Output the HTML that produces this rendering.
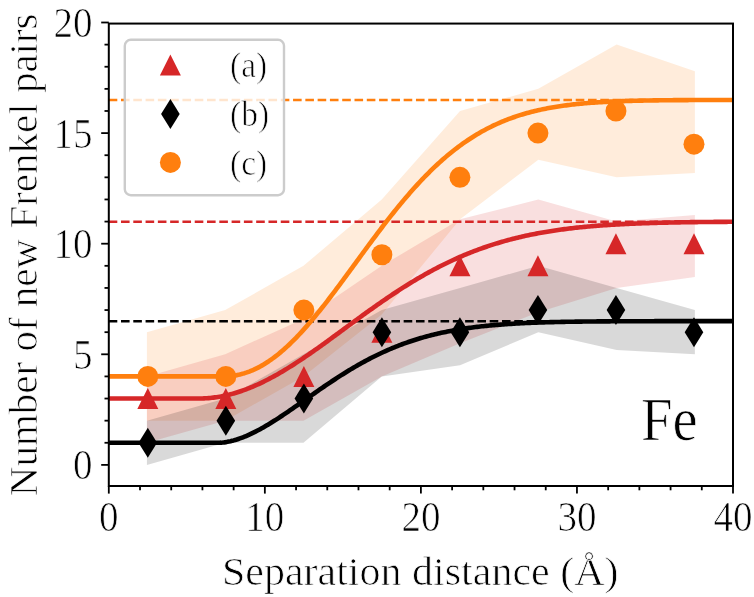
<!DOCTYPE html><html><head><meta charset="utf-8"><style>html,body{margin:0;padding:0;background:#fff;overflow:hidden}svg{display:block;will-change:transform}text{font-family:"Liberation Serif",serif;fill:#000;stroke:#fff;stroke-width:0.75px}</style></head><body>
<svg width="754" height="597" viewBox="0 0 754 597">
<rect width="754" height="597" fill="#fff"/>
<defs><clipPath id="ax"><rect x="108.8" y="23.57" width="624.2" height="462.43"/></clipPath></defs>
<g clip-path="url(#ax)">
<polygon points="146.91,332.18 225.19,310.06 303.48,265.82 381.76,199.46 460.04,110.98 538.32,88.86 616.61,44.62 694.89,71.16 694.89,172.92 616.61,177.34 538.32,159.64 460.04,219.37 381.76,314.48 303.48,376.42 225.19,420.66 146.91,420.66" fill="#ff7f0e" fill-opacity="0.15"/>
<polygon points="146.91,376.42 225.19,354.30 303.48,318.91 381.76,265.82 460.04,219.37 538.32,199.46 616.61,221.58 694.89,214.94 694.89,276.88 616.61,287.94 538.32,312.27 460.04,343.24 381.76,376.42 303.48,420.66 225.19,420.66 146.91,442.78" fill="#d62728" fill-opacity="0.15"/>
<polygon points="146.91,420.66 225.19,398.54 303.48,354.30 381.76,310.06 460.04,287.94 538.32,265.82 616.61,287.94 694.89,310.06 694.89,354.30 616.61,349.88 538.32,332.18 460.04,365.36 381.76,376.42 303.48,442.78 225.19,442.78 146.91,464.90" fill="#000000" fill-opacity="0.15"/>
<line x1="108.7" y1="100.12" x2="733" y2="100.12" stroke="#ff7f0e" stroke-width="2.5" stroke-dasharray="8.6 3.69"/>
<line x1="108.7" y1="221.78" x2="733" y2="221.78" stroke="#d62728" stroke-width="2.5" stroke-dasharray="8.6 3.69"/>
<line x1="108.7" y1="321.32" x2="733" y2="321.32" stroke="#000" stroke-width="2.5" stroke-dasharray="8.6 3.69"/>
<path d="M108.80,376.42 L110.36,376.42 L111.92,376.42 L113.48,376.42 L115.04,376.42 L116.60,376.42 L118.16,376.42 L119.72,376.42 L121.28,376.42 L122.84,376.42 L124.41,376.42 L125.97,376.42 L127.53,376.42 L129.09,376.42 L130.65,376.42 L132.21,376.42 L133.77,376.42 L135.33,376.42 L136.89,376.42 L138.45,376.42 L140.01,376.42 L141.57,376.42 L143.13,376.42 L144.69,376.42 L146.25,376.42 L147.81,376.42 L149.37,376.42 L150.93,376.42 L152.49,376.42 L154.05,376.42 L155.62,376.42 L157.18,376.42 L158.74,376.42 L160.30,376.42 L161.86,376.42 L163.42,376.42 L164.98,376.42 L166.54,376.42 L168.10,376.42 L169.66,376.42 L171.22,376.42 L172.78,376.42 L174.34,376.42 L175.90,376.42 L177.46,376.42 L179.02,376.42 L180.58,376.42 L182.14,376.42 L183.70,376.42 L185.26,376.42 L186.82,376.42 L188.39,376.42 L189.95,376.42 L191.51,376.42 L193.07,376.42 L194.63,376.42 L196.19,376.42 L197.75,376.42 L199.31,376.42 L200.87,376.42 L202.43,376.42 L203.99,376.42 L205.55,376.42 L207.11,376.42 L208.67,376.42 L210.23,376.42 L211.79,376.42 L213.35,376.42 L214.91,376.42 L216.47,376.42 L218.03,376.42 L219.60,376.42 L221.16,376.42 L222.72,376.42 L224.28,376.40 L225.84,376.36 L227.40,376.28 L228.96,376.18 L230.52,376.04 L232.08,375.86 L233.64,375.65 L235.20,375.41 L236.76,375.13 L238.32,374.81 L239.88,374.46 L241.44,374.07 L243.00,373.64 L244.56,373.18 L246.12,372.68 L247.68,372.14 L249.25,371.57 L250.81,370.95 L252.37,370.30 L253.93,369.62 L255.49,368.89 L257.05,368.13 L258.61,367.33 L260.17,366.50 L261.73,365.63 L263.29,364.72 L264.85,363.77 L266.41,362.79 L267.97,361.78 L269.53,360.72 L271.09,359.64 L272.65,358.51 L274.21,357.36 L275.77,356.17 L277.33,354.94 L278.89,353.68 L280.45,352.39 L282.02,351.07 L283.58,349.71 L285.14,348.32 L286.70,346.90 L288.26,345.46 L289.82,343.98 L291.38,342.47 L292.94,340.93 L294.50,339.36 L296.06,337.77 L297.62,336.15 L299.18,334.50 L300.74,332.83 L302.30,331.13 L303.86,329.40 L305.42,327.66 L306.98,325.89 L308.54,324.09 L310.10,322.28 L311.67,320.44 L313.23,318.58 L314.79,316.70 L316.35,314.81 L317.91,312.89 L319.47,310.96 L321.03,309.01 L322.59,307.04 L324.15,305.06 L325.71,303.06 L327.27,301.05 L328.83,299.03 L330.39,296.99 L331.95,294.94 L333.51,292.88 L335.07,290.81 L336.63,288.73 L338.19,286.64 L339.75,284.55 L341.31,282.44 L342.88,280.33 L344.44,278.22 L346.00,276.09 L347.56,273.97 L349.12,271.84 L350.68,269.71 L352.24,267.57 L353.80,265.44 L355.36,263.30 L356.92,261.16 L358.48,259.03 L360.04,256.89 L361.60,254.76 L363.16,252.63 L364.72,250.50 L366.28,248.38 L367.84,246.26 L369.40,244.15 L370.96,242.04 L372.52,239.94 L374.09,237.84 L375.65,235.76 L377.21,233.68 L378.77,231.61 L380.33,229.55 L381.89,227.50 L383.45,225.46 L385.01,223.43 L386.57,221.42 L388.13,219.41 L389.69,217.42 L391.25,215.44 L392.81,213.47 L394.37,211.52 L395.93,209.58 L397.49,207.66 L399.05,205.75 L400.61,203.85 L402.17,201.97 L403.73,200.11 L405.30,198.27 L406.86,196.44 L408.42,194.63 L409.98,192.83 L411.54,191.06 L413.10,189.30 L414.66,187.56 L416.22,185.84 L417.78,184.13 L419.34,182.45 L420.90,180.79 L422.46,179.14 L424.02,177.51 L425.58,175.91 L427.14,174.32 L428.70,172.76 L430.26,171.21 L431.82,169.68 L433.38,168.18 L434.94,166.69 L436.50,165.23 L438.07,163.78 L439.63,162.36 L441.19,160.96 L442.75,159.57 L444.31,158.21 L445.87,156.87 L447.43,155.55 L448.99,154.25 L450.55,152.97 L452.11,151.71 L453.67,150.48 L455.23,149.26 L456.79,148.06 L458.35,146.89 L459.91,145.73 L461.47,144.59 L463.03,143.48 L464.59,142.38 L466.15,141.31 L467.72,140.25 L469.28,139.22 L470.84,138.20 L472.40,137.20 L473.96,136.22 L475.52,135.27 L477.08,134.33 L478.64,133.41 L480.20,132.50 L481.76,131.62 L483.32,130.75 L484.88,129.91 L486.44,129.08 L488.00,128.26 L489.56,127.47 L491.12,126.69 L492.68,125.93 L494.24,125.19 L495.80,124.46 L497.36,123.75 L498.93,123.06 L500.49,122.38 L502.05,121.72 L503.61,121.07 L505.17,120.44 L506.73,119.82 L508.29,119.22 L509.85,118.64 L511.41,118.06 L512.97,117.51 L514.53,116.96 L516.09,116.43 L517.65,115.91 L519.21,115.41 L520.77,114.92 L522.33,114.44 L523.89,113.98 L525.45,113.52 L527.01,113.08 L528.57,112.66 L530.13,112.24 L531.70,111.83 L533.26,111.44 L534.82,111.05 L536.38,110.68 L537.94,110.32 L539.50,109.97 L541.06,109.62 L542.62,109.29 L544.18,108.97 L545.74,108.66 L547.30,108.35 L548.86,108.06 L550.42,107.77 L551.98,107.49 L553.54,107.23 L555.10,106.96 L556.66,106.71 L558.22,106.47 L559.78,106.23 L561.35,106.00 L562.91,105.78 L564.47,105.56 L566.03,105.35 L567.59,105.15 L569.15,104.96 L570.71,104.77 L572.27,104.58 L573.83,104.41 L575.39,104.24 L576.95,104.07 L578.51,103.91 L580.07,103.76 L581.63,103.61 L583.19,103.46 L584.75,103.32 L586.31,103.19 L587.87,103.06 L589.43,102.94 L590.99,102.82 L592.55,102.70 L594.12,102.59 L595.68,102.48 L597.24,102.38 L598.80,102.27 L600.36,102.18 L601.92,102.09 L603.48,102.00 L605.04,101.91 L606.60,101.83 L608.16,101.75 L609.72,101.67 L611.28,101.59 L612.84,101.52 L614.40,101.45 L615.96,101.39 L617.52,101.33 L619.08,101.26 L620.64,101.21 L622.20,101.15 L623.76,101.10 L625.33,101.04 L626.89,100.99 L628.45,100.95 L630.01,100.90 L631.57,100.86 L633.13,100.81 L634.69,100.77 L636.25,100.74 L637.81,100.70 L639.37,100.66 L640.93,100.63 L642.49,100.60 L644.05,100.56 L645.61,100.53 L647.17,100.51 L648.73,100.48 L650.29,100.45 L651.85,100.43 L653.41,100.40 L654.98,100.38 L656.54,100.36 L658.10,100.34 L659.66,100.32 L661.22,100.30 L662.78,100.28 L664.34,100.26 L665.90,100.25 L667.46,100.23 L669.02,100.21 L670.58,100.20 L672.14,100.19 L673.70,100.17 L675.26,100.16 L676.82,100.15 L678.38,100.14 L679.94,100.13 L681.50,100.11 L683.06,100.10 L684.62,100.10 L686.18,100.09 L687.75,100.08 L689.31,100.07 L690.87,100.06 L692.43,100.05 L693.99,100.05 L695.55,100.04 L697.11,100.03 L698.67,100.03 L700.23,100.02 L701.79,100.02 L703.35,100.01 L704.91,100.01 L706.47,100.00 L708.03,100.00 L709.59,99.99 L711.15,99.99 L712.71,99.99 L714.27,99.98 L715.83,99.98 L717.39,99.98 L718.96,99.97 L720.52,99.97 L722.08,99.97 L723.64,99.96 L725.20,99.96 L726.76,99.96 L728.32,99.96 L729.88,99.96 L731.44,99.95 L733.00,99.95" fill="none" stroke="#ff7f0e" stroke-width="4.6" stroke-linejoin="round" stroke-linecap="square"/>
<path d="M108.80,398.54 L110.36,398.54 L111.92,398.54 L113.48,398.54 L115.04,398.54 L116.60,398.54 L118.16,398.54 L119.72,398.54 L121.28,398.54 L122.84,398.54 L124.41,398.54 L125.97,398.54 L127.53,398.54 L129.09,398.54 L130.65,398.54 L132.21,398.54 L133.77,398.54 L135.33,398.54 L136.89,398.54 L138.45,398.54 L140.01,398.54 L141.57,398.54 L143.13,398.54 L144.69,398.54 L146.25,398.54 L147.81,398.54 L149.37,398.54 L150.93,398.54 L152.49,398.54 L154.05,398.54 L155.62,398.54 L157.18,398.54 L158.74,398.54 L160.30,398.54 L161.86,398.54 L163.42,398.54 L164.98,398.54 L166.54,398.54 L168.10,398.54 L169.66,398.54 L171.22,398.54 L172.78,398.54 L174.34,398.54 L175.90,398.54 L177.46,398.54 L179.02,398.54 L180.58,398.54 L182.14,398.54 L183.70,398.54 L185.26,398.54 L186.82,398.54 L188.39,398.54 L189.95,398.54 L191.51,398.54 L193.07,398.54 L194.63,398.54 L196.19,398.54 L197.75,398.54 L199.31,398.54 L200.87,398.51 L202.43,398.47 L203.99,398.41 L205.55,398.32 L207.11,398.22 L208.67,398.10 L210.23,397.95 L211.79,397.79 L213.35,397.60 L214.91,397.40 L216.47,397.18 L218.03,396.93 L219.60,396.67 L221.16,396.39 L222.72,396.08 L224.28,395.76 L225.84,395.42 L227.40,395.06 L228.96,394.68 L230.52,394.28 L232.08,393.86 L233.64,393.43 L235.20,392.97 L236.76,392.50 L238.32,392.01 L239.88,391.50 L241.44,390.97 L243.00,390.43 L244.56,389.87 L246.12,389.29 L247.68,388.69 L249.25,388.08 L250.81,387.45 L252.37,386.80 L253.93,386.14 L255.49,385.46 L257.05,384.76 L258.61,384.05 L260.17,383.32 L261.73,382.58 L263.29,381.82 L264.85,381.05 L266.41,380.27 L267.97,379.47 L269.53,378.65 L271.09,377.83 L272.65,376.98 L274.21,376.13 L275.77,375.26 L277.33,374.38 L278.89,373.49 L280.45,372.59 L282.02,371.67 L283.58,370.74 L285.14,369.80 L286.70,368.85 L288.26,367.89 L289.82,366.92 L291.38,365.94 L292.94,364.95 L294.50,363.95 L296.06,362.94 L297.62,361.92 L299.18,360.90 L300.74,359.86 L302.30,358.82 L303.86,357.77 L305.42,356.71 L306.98,355.64 L308.54,354.57 L310.10,353.49 L311.67,352.40 L313.23,351.31 L314.79,350.22 L316.35,349.11 L317.91,348.01 L319.47,346.89 L321.03,345.78 L322.59,344.66 L324.15,343.53 L325.71,342.40 L327.27,341.27 L328.83,340.14 L330.39,339.00 L331.95,337.86 L333.51,336.72 L335.07,335.58 L336.63,334.43 L338.19,333.29 L339.75,332.14 L341.31,330.99 L342.88,329.84 L344.44,328.69 L346.00,327.54 L347.56,326.40 L349.12,325.25 L350.68,324.10 L352.24,322.96 L353.80,321.81 L355.36,320.67 L356.92,319.53 L358.48,318.39 L360.04,317.25 L361.60,316.12 L363.16,314.98 L364.72,313.86 L366.28,312.73 L367.84,311.61 L369.40,310.49 L370.96,309.38 L372.52,308.26 L374.09,307.16 L375.65,306.06 L377.21,304.96 L378.77,303.87 L380.33,302.78 L381.89,301.70 L383.45,300.62 L385.01,299.55 L386.57,298.48 L388.13,297.42 L389.69,296.37 L391.25,295.32 L392.81,294.28 L394.37,293.25 L395.93,292.22 L397.49,291.20 L399.05,290.18 L400.61,289.18 L402.17,288.18 L403.73,287.18 L405.30,286.20 L406.86,285.22 L408.42,284.25 L409.98,283.29 L411.54,282.33 L413.10,281.39 L414.66,280.45 L416.22,279.52 L417.78,278.59 L419.34,277.68 L420.90,276.77 L422.46,275.88 L424.02,274.99 L425.58,274.11 L427.14,273.23 L428.70,272.37 L430.26,271.52 L431.82,270.67 L433.38,269.83 L434.94,269.01 L436.50,268.19 L438.07,267.38 L439.63,266.57 L441.19,265.78 L442.75,265.00 L444.31,264.22 L445.87,263.46 L447.43,262.70 L448.99,261.95 L450.55,261.22 L452.11,260.49 L453.67,259.77 L455.23,259.05 L456.79,258.35 L458.35,257.66 L459.91,256.98 L461.47,256.30 L463.03,255.63 L464.59,254.98 L466.15,254.33 L467.72,253.69 L469.28,253.06 L470.84,252.44 L472.40,251.82 L473.96,251.22 L475.52,250.62 L477.08,250.04 L478.64,249.46 L480.20,248.89 L481.76,248.33 L483.32,247.78 L484.88,247.23 L486.44,246.70 L488.00,246.17 L489.56,245.65 L491.12,245.14 L492.68,244.64 L494.24,244.15 L495.80,243.66 L497.36,243.18 L498.93,242.71 L500.49,242.25 L502.05,241.79 L503.61,241.35 L505.17,240.91 L506.73,240.48 L508.29,240.05 L509.85,239.64 L511.41,239.23 L512.97,238.82 L514.53,238.43 L516.09,238.04 L517.65,237.66 L519.21,237.29 L520.77,236.92 L522.33,236.56 L523.89,236.21 L525.45,235.86 L527.01,235.52 L528.57,235.19 L530.13,234.86 L531.70,234.54 L533.26,234.23 L534.82,233.92 L536.38,233.62 L537.94,233.32 L539.50,233.03 L541.06,232.75 L542.62,232.47 L544.18,232.20 L545.74,231.93 L547.30,231.67 L548.86,231.42 L550.42,231.16 L551.98,230.92 L553.54,230.68 L555.10,230.44 L556.66,230.22 L558.22,229.99 L559.78,229.77 L561.35,229.56 L562.91,229.35 L564.47,229.14 L566.03,228.94 L567.59,228.74 L569.15,228.55 L570.71,228.36 L572.27,228.18 L573.83,228.00 L575.39,227.83 L576.95,227.66 L578.51,227.49 L580.07,227.33 L581.63,227.17 L583.19,227.01 L584.75,226.86 L586.31,226.71 L587.87,226.57 L589.43,226.43 L590.99,226.29 L592.55,226.15 L594.12,226.02 L595.68,225.90 L597.24,225.77 L598.80,225.65 L600.36,225.53 L601.92,225.42 L603.48,225.31 L605.04,225.20 L606.60,225.09 L608.16,224.99 L609.72,224.88 L611.28,224.79 L612.84,224.69 L614.40,224.60 L615.96,224.51 L617.52,224.42 L619.08,224.33 L620.64,224.25 L622.20,224.17 L623.76,224.09 L625.33,224.01 L626.89,223.93 L628.45,223.86 L630.01,223.79 L631.57,223.72 L633.13,223.65 L634.69,223.59 L636.25,223.53 L637.81,223.46 L639.37,223.40 L640.93,223.35 L642.49,223.29 L644.05,223.23 L645.61,223.18 L647.17,223.13 L648.73,223.08 L650.29,223.03 L651.85,222.98 L653.41,222.94 L654.98,222.89 L656.54,222.85 L658.10,222.81 L659.66,222.77 L661.22,222.73 L662.78,222.69 L664.34,222.65 L665.90,222.61 L667.46,222.58 L669.02,222.55 L670.58,222.51 L672.14,222.48 L673.70,222.45 L675.26,222.42 L676.82,222.39 L678.38,222.36 L679.94,222.34 L681.50,222.31 L683.06,222.28 L684.62,222.26 L686.18,222.24 L687.75,222.21 L689.31,222.19 L690.87,222.17 L692.43,222.15 L693.99,222.13 L695.55,222.11 L697.11,222.09 L698.67,222.07 L700.23,222.05 L701.79,222.04 L703.35,222.02 L704.91,222.00 L706.47,221.99 L708.03,221.97 L709.59,221.96 L711.15,221.94 L712.71,221.93 L714.27,221.92 L715.83,221.91 L717.39,221.89 L718.96,221.88 L720.52,221.87 L722.08,221.86 L723.64,221.85 L725.20,221.84 L726.76,221.83 L728.32,221.82 L729.88,221.81 L731.44,221.80 L733.00,221.79" fill="none" stroke="#d62728" stroke-width="4.6" stroke-linejoin="round" stroke-linecap="square"/>
<path d="M108.80,442.78 L110.36,442.78 L111.92,442.78 L113.48,442.78 L115.04,442.78 L116.60,442.78 L118.16,442.78 L119.72,442.78 L121.28,442.78 L122.84,442.78 L124.41,442.78 L125.97,442.78 L127.53,442.78 L129.09,442.78 L130.65,442.78 L132.21,442.78 L133.77,442.78 L135.33,442.78 L136.89,442.78 L138.45,442.78 L140.01,442.78 L141.57,442.78 L143.13,442.78 L144.69,442.78 L146.25,442.78 L147.81,442.78 L149.37,442.78 L150.93,442.78 L152.49,442.78 L154.05,442.78 L155.62,442.78 L157.18,442.78 L158.74,442.78 L160.30,442.78 L161.86,442.78 L163.42,442.78 L164.98,442.78 L166.54,442.78 L168.10,442.78 L169.66,442.78 L171.22,442.78 L172.78,442.78 L174.34,442.78 L175.90,442.78 L177.46,442.78 L179.02,442.78 L180.58,442.78 L182.14,442.78 L183.70,442.78 L185.26,442.78 L186.82,442.78 L188.39,442.78 L189.95,442.78 L191.51,442.78 L193.07,442.78 L194.63,442.78 L196.19,442.78 L197.75,442.78 L199.31,442.78 L200.87,442.78 L202.43,442.78 L203.99,442.78 L205.55,442.78 L207.11,442.78 L208.67,442.78 L210.23,442.78 L211.79,442.78 L213.35,442.78 L214.91,442.78 L216.47,442.78 L218.03,442.78 L219.60,442.76 L221.16,442.67 L222.72,442.53 L224.28,442.35 L225.84,442.12 L227.40,441.85 L228.96,441.54 L230.52,441.20 L232.08,440.82 L233.64,440.41 L235.20,439.96 L236.76,439.49 L238.32,438.98 L239.88,438.44 L241.44,437.87 L243.00,437.28 L244.56,436.66 L246.12,436.01 L247.68,435.34 L249.25,434.64 L250.81,433.92 L252.37,433.18 L253.93,432.42 L255.49,431.63 L257.05,430.82 L258.61,430.00 L260.17,429.15 L261.73,428.29 L263.29,427.41 L264.85,426.51 L266.41,425.60 L267.97,424.67 L269.53,423.73 L271.09,422.77 L272.65,421.80 L274.21,420.82 L275.77,419.83 L277.33,418.82 L278.89,417.81 L280.45,416.78 L282.02,415.75 L283.58,414.71 L285.14,413.66 L286.70,412.60 L288.26,411.54 L289.82,410.47 L291.38,409.39 L292.94,408.31 L294.50,407.23 L296.06,406.14 L297.62,405.05 L299.18,403.95 L300.74,402.86 L302.30,401.76 L303.86,400.66 L305.42,399.56 L306.98,398.46 L308.54,397.37 L310.10,396.27 L311.67,395.17 L313.23,394.08 L314.79,392.99 L316.35,391.90 L317.91,390.81 L319.47,389.73 L321.03,388.66 L322.59,387.58 L324.15,386.51 L325.71,385.45 L327.27,384.39 L328.83,383.34 L330.39,382.29 L331.95,381.25 L333.51,380.22 L335.07,379.20 L336.63,378.18 L338.19,377.17 L339.75,376.16 L341.31,375.17 L342.88,374.18 L344.44,373.20 L346.00,372.24 L347.56,371.28 L349.12,370.32 L350.68,369.38 L352.24,368.45 L353.80,367.53 L355.36,366.62 L356.92,365.71 L358.48,364.82 L360.04,363.94 L361.60,363.07 L363.16,362.21 L364.72,361.36 L366.28,360.52 L367.84,359.69 L369.40,358.87 L370.96,358.07 L372.52,357.27 L374.09,356.49 L375.65,355.71 L377.21,354.95 L378.77,354.20 L380.33,353.46 L381.89,352.73 L383.45,352.01 L385.01,351.30 L386.57,350.61 L388.13,349.92 L389.69,349.25 L391.25,348.59 L392.81,347.94 L394.37,347.30 L395.93,346.67 L397.49,346.05 L399.05,345.44 L400.61,344.85 L402.17,344.26 L403.73,343.69 L405.30,343.12 L406.86,342.57 L408.42,342.03 L409.98,341.49 L411.54,340.97 L413.10,340.46 L414.66,339.96 L416.22,339.46 L417.78,338.98 L419.34,338.51 L420.90,338.05 L422.46,337.59 L424.02,337.15 L425.58,336.72 L427.14,336.29 L428.70,335.88 L430.26,335.47 L431.82,335.07 L433.38,334.68 L434.94,334.30 L436.50,333.93 L438.07,333.57 L439.63,333.21 L441.19,332.87 L442.75,332.53 L444.31,332.20 L445.87,331.88 L447.43,331.56 L448.99,331.26 L450.55,330.96 L452.11,330.66 L453.67,330.38 L455.23,330.10 L456.79,329.83 L458.35,329.57 L459.91,329.31 L461.47,329.06 L463.03,328.81 L464.59,328.58 L466.15,328.34 L467.72,328.12 L469.28,327.90 L470.84,327.69 L472.40,327.48 L473.96,327.28 L475.52,327.08 L477.08,326.89 L478.64,326.70 L480.20,326.52 L481.76,326.34 L483.32,326.17 L484.88,326.01 L486.44,325.85 L488.00,325.69 L489.56,325.54 L491.12,325.39 L492.68,325.25 L494.24,325.11 L495.80,324.97 L497.36,324.84 L498.93,324.71 L500.49,324.59 L502.05,324.47 L503.61,324.35 L505.17,324.24 L506.73,324.13 L508.29,324.03 L509.85,323.93 L511.41,323.83 L512.97,323.73 L514.53,323.64 L516.09,323.55 L517.65,323.46 L519.21,323.38 L520.77,323.29 L522.33,323.21 L523.89,323.14 L525.45,323.06 L527.01,322.99 L528.57,322.92 L530.13,322.86 L531.70,322.79 L533.26,322.73 L534.82,322.67 L536.38,322.61 L537.94,322.55 L539.50,322.50 L541.06,322.45 L542.62,322.40 L544.18,322.35 L545.74,322.30 L547.30,322.26 L548.86,322.21 L550.42,322.17 L551.98,322.13 L553.54,322.09 L555.10,322.05 L556.66,322.01 L558.22,321.98 L559.78,321.94 L561.35,321.91 L562.91,321.88 L564.47,321.85 L566.03,321.82 L567.59,321.79 L569.15,321.76 L570.71,321.74 L572.27,321.71 L573.83,321.69 L575.39,321.67 L576.95,321.64 L578.51,321.62 L580.07,321.60 L581.63,321.58 L583.19,321.56 L584.75,321.54 L586.31,321.52 L587.87,321.51 L589.43,321.49 L590.99,321.48 L592.55,321.46 L594.12,321.45 L595.68,321.43 L597.24,321.42 L598.80,321.41 L600.36,321.39 L601.92,321.38 L603.48,321.37 L605.04,321.36 L606.60,321.35 L608.16,321.34 L609.72,321.33 L611.28,321.32 L612.84,321.31 L614.40,321.30 L615.96,321.29 L617.52,321.29 L619.08,321.28 L620.64,321.27 L622.20,321.26 L623.76,321.26 L625.33,321.25 L626.89,321.25 L628.45,321.24 L630.01,321.23 L631.57,321.23 L633.13,321.22 L634.69,321.22 L636.25,321.21 L637.81,321.21 L639.37,321.21 L640.93,321.20 L642.49,321.20 L644.05,321.19 L645.61,321.19 L647.17,321.19 L648.73,321.18 L650.29,321.18 L651.85,321.18 L653.41,321.18 L654.98,321.17 L656.54,321.17 L658.10,321.17 L659.66,321.17 L661.22,321.16 L662.78,321.16 L664.34,321.16 L665.90,321.16 L667.46,321.16 L669.02,321.15 L670.58,321.15 L672.14,321.15 L673.70,321.15 L675.26,321.15 L676.82,321.15 L678.38,321.15 L679.94,321.14 L681.50,321.14 L683.06,321.14 L684.62,321.14 L686.18,321.14 L687.75,321.14 L689.31,321.14 L690.87,321.14 L692.43,321.14 L693.99,321.13 L695.55,321.13 L697.11,321.13 L698.67,321.13 L700.23,321.13 L701.79,321.13 L703.35,321.13 L704.91,321.13 L706.47,321.13 L708.03,321.13 L709.59,321.13 L711.15,321.13 L712.71,321.13 L714.27,321.13 L715.83,321.13 L717.39,321.13 L718.96,321.13 L720.52,321.13 L722.08,321.13 L723.64,321.13 L725.20,321.13 L726.76,321.12 L728.32,321.12 L729.88,321.12 L731.44,321.12 L733.00,321.12" fill="none" stroke="#000" stroke-width="4.6" stroke-linejoin="round" stroke-linecap="square"/>
<polygon points="147.81,388.04 137.31,409.04 158.31,409.04" fill="#d62728"/>
<polygon points="225.84,388.04 215.34,409.04 236.34,409.04" fill="#d62728"/>
<polygon points="303.86,365.92 293.36,386.92 314.36,386.92" fill="#d62728"/>
<polygon points="381.89,321.68 371.39,342.68 392.39,342.68" fill="#d62728"/>
<polygon points="459.91,255.32 449.41,276.32 470.41,276.32" fill="#d62728"/>
<polygon points="537.94,255.32 527.44,276.32 548.44,276.32" fill="#d62728"/>
<polygon points="615.96,233.20 605.46,254.20 626.46,254.20" fill="#d62728"/>
<polygon points="693.99,233.20 683.49,254.20 704.49,254.20" fill="#d62728"/>
<polygon points="147.81,427.78 157.11,442.78 147.81,457.78 138.51,442.78" fill="#000"/>
<polygon points="225.84,405.66 235.14,420.66 225.84,435.66 216.54,420.66" fill="#000"/>
<polygon points="303.86,383.54 313.16,398.54 303.86,413.54 294.56,398.54" fill="#000"/>
<polygon points="381.89,317.18 391.19,332.18 381.89,347.18 372.59,332.18" fill="#000"/>
<polygon points="459.91,317.18 469.21,332.18 459.91,347.18 450.61,332.18" fill="#000"/>
<polygon points="537.94,295.06 547.24,310.06 537.94,325.06 528.64,310.06" fill="#000"/>
<polygon points="615.96,295.06 625.26,310.06 615.96,325.06 606.66,310.06" fill="#000"/>
<polygon points="693.99,317.18 703.29,332.18 693.99,347.18 684.69,332.18" fill="#000"/>
<circle cx="147.81" cy="376.42" r="10.50" fill="#ff7f0e"/>
<circle cx="225.84" cy="376.42" r="10.50" fill="#ff7f0e"/>
<circle cx="303.86" cy="310.06" r="10.50" fill="#ff7f0e"/>
<circle cx="381.89" cy="254.76" r="10.50" fill="#ff7f0e"/>
<circle cx="459.91" cy="177.34" r="10.50" fill="#ff7f0e"/>
<circle cx="537.94" cy="133.10" r="10.50" fill="#ff7f0e"/>
<circle cx="615.96" cy="110.98" r="10.50" fill="#ff7f0e"/>
<circle cx="693.99" cy="144.16" r="10.50" fill="#ff7f0e"/>
</g>
<rect x="108.8" y="23.57" width="624.2" height="462.43" fill="none" stroke="#000" stroke-width="2.0"/>
<line x1="101.20" y1="464.90" x2="108.8" y2="464.90" stroke="#000" stroke-width="1.8"/>
<line x1="101.20" y1="354.30" x2="108.8" y2="354.30" stroke="#000" stroke-width="1.8"/>
<line x1="101.20" y1="243.70" x2="108.8" y2="243.70" stroke="#000" stroke-width="1.8"/>
<line x1="101.20" y1="133.10" x2="108.8" y2="133.10" stroke="#000" stroke-width="1.8"/>
<line x1="101.20" y1="22.50" x2="108.8" y2="22.50" stroke="#000" stroke-width="1.8"/>
<line x1="104.50" y1="442.78" x2="108.8" y2="442.78" stroke="#000" stroke-width="1.8"/>
<line x1="104.50" y1="420.66" x2="108.8" y2="420.66" stroke="#000" stroke-width="1.8"/>
<line x1="104.50" y1="398.54" x2="108.8" y2="398.54" stroke="#000" stroke-width="1.8"/>
<line x1="104.50" y1="376.42" x2="108.8" y2="376.42" stroke="#000" stroke-width="1.8"/>
<line x1="104.50" y1="332.18" x2="108.8" y2="332.18" stroke="#000" stroke-width="1.8"/>
<line x1="104.50" y1="310.06" x2="108.8" y2="310.06" stroke="#000" stroke-width="1.8"/>
<line x1="104.50" y1="287.94" x2="108.8" y2="287.94" stroke="#000" stroke-width="1.8"/>
<line x1="104.50" y1="265.82" x2="108.8" y2="265.82" stroke="#000" stroke-width="1.8"/>
<line x1="104.50" y1="221.58" x2="108.8" y2="221.58" stroke="#000" stroke-width="1.8"/>
<line x1="104.50" y1="199.46" x2="108.8" y2="199.46" stroke="#000" stroke-width="1.8"/>
<line x1="104.50" y1="177.34" x2="108.8" y2="177.34" stroke="#000" stroke-width="1.8"/>
<line x1="104.50" y1="155.22" x2="108.8" y2="155.22" stroke="#000" stroke-width="1.8"/>
<line x1="104.50" y1="110.98" x2="108.8" y2="110.98" stroke="#000" stroke-width="1.8"/>
<line x1="104.50" y1="88.86" x2="108.8" y2="88.86" stroke="#000" stroke-width="1.8"/>
<line x1="104.50" y1="66.74" x2="108.8" y2="66.74" stroke="#000" stroke-width="1.8"/>
<line x1="104.50" y1="44.62" x2="108.8" y2="44.62" stroke="#000" stroke-width="1.8"/>
<line x1="108.80" y1="486" x2="108.80" y2="493.6" stroke="#000" stroke-width="1.8"/>
<line x1="264.85" y1="486" x2="264.85" y2="493.6" stroke="#000" stroke-width="1.8"/>
<line x1="420.90" y1="486" x2="420.90" y2="493.6" stroke="#000" stroke-width="1.8"/>
<line x1="576.95" y1="486" x2="576.95" y2="493.6" stroke="#000" stroke-width="1.8"/>
<line x1="733.00" y1="486" x2="733.00" y2="493.6" stroke="#000" stroke-width="1.8"/>
<line x1="140.01" y1="486" x2="140.01" y2="490.3" stroke="#000" stroke-width="1.8"/>
<line x1="171.22" y1="486" x2="171.22" y2="490.3" stroke="#000" stroke-width="1.8"/>
<line x1="202.43" y1="486" x2="202.43" y2="490.3" stroke="#000" stroke-width="1.8"/>
<line x1="233.64" y1="486" x2="233.64" y2="490.3" stroke="#000" stroke-width="1.8"/>
<line x1="296.06" y1="486" x2="296.06" y2="490.3" stroke="#000" stroke-width="1.8"/>
<line x1="327.27" y1="486" x2="327.27" y2="490.3" stroke="#000" stroke-width="1.8"/>
<line x1="358.48" y1="486" x2="358.48" y2="490.3" stroke="#000" stroke-width="1.8"/>
<line x1="389.69" y1="486" x2="389.69" y2="490.3" stroke="#000" stroke-width="1.8"/>
<line x1="452.11" y1="486" x2="452.11" y2="490.3" stroke="#000" stroke-width="1.8"/>
<line x1="483.32" y1="486" x2="483.32" y2="490.3" stroke="#000" stroke-width="1.8"/>
<line x1="514.53" y1="486" x2="514.53" y2="490.3" stroke="#000" stroke-width="1.8"/>
<line x1="545.74" y1="486" x2="545.74" y2="490.3" stroke="#000" stroke-width="1.8"/>
<line x1="608.16" y1="486" x2="608.16" y2="490.3" stroke="#000" stroke-width="1.8"/>
<line x1="639.37" y1="486" x2="639.37" y2="490.3" stroke="#000" stroke-width="1.8"/>
<line x1="670.58" y1="486" x2="670.58" y2="490.3" stroke="#000" stroke-width="1.8"/>
<line x1="701.79" y1="486" x2="701.79" y2="490.3" stroke="#000" stroke-width="1.8"/>
<text transform="translate(92.5,479.30) scale(0.94,1)" font-size="41.5" text-anchor="end">0</text>
<text transform="translate(92.5,368.70) scale(0.94,1)" font-size="41.5" text-anchor="end">5</text>
<text transform="translate(92.5,258.10) scale(0.94,1)" font-size="41.5" text-anchor="end">10</text>
<text transform="translate(92.5,147.50) scale(0.94,1)" font-size="41.5" text-anchor="end">15</text>
<text transform="translate(92.5,36.90) scale(0.94,1)" font-size="41.5" text-anchor="end">20</text>
<text transform="translate(108.80,530.8) scale(0.94,1)" font-size="41.5" text-anchor="middle">0</text>
<text transform="translate(264.85,530.8) scale(0.94,1)" font-size="41.5" text-anchor="middle">10</text>
<text transform="translate(420.90,530.8) scale(0.94,1)" font-size="41.5" text-anchor="middle">20</text>
<text transform="translate(576.95,530.8) scale(0.94,1)" font-size="41.5" text-anchor="middle">30</text>
<text transform="translate(733.00,530.8) scale(0.94,1)" font-size="41.5" text-anchor="middle">40</text>
<text transform="translate(420.2,585.1) scale(1.025,1)" font-size="41" text-anchor="middle">Separation distance (Å)</text>
<text transform="translate(37,254.8) rotate(-90) scale(1.0,1)" font-size="41" text-anchor="middle">Number of new Frenkel pairs</text>
<text transform="translate(641,439.7) scale(0.93,1)" font-size="61">Fe</text>
<rect x="124.8" y="39.8" width="159.2" height="155.4" rx="6" fill="#fff" fill-opacity="0.8" stroke="#cccccc" stroke-width="2.4"/>
<polygon points="170.40,54.50 159.90,75.50 180.90,75.50" fill="#d62728"/>
<polygon points="170.40,99.10 179.70,114.10 170.40,129.10 161.10,114.10" fill="#000"/>
<circle cx="170.40" cy="162.40" r="10.50" fill="#ff7f0e"/>
<text transform="translate(230,77.30) scale(0.93,1)" font-size="36">(a)</text>
<text transform="translate(230,126.40) scale(0.93,1)" font-size="36">(b)</text>
<text transform="translate(230,174.70) scale(0.93,1)" font-size="36">(c)</text>
</svg></body></html>
